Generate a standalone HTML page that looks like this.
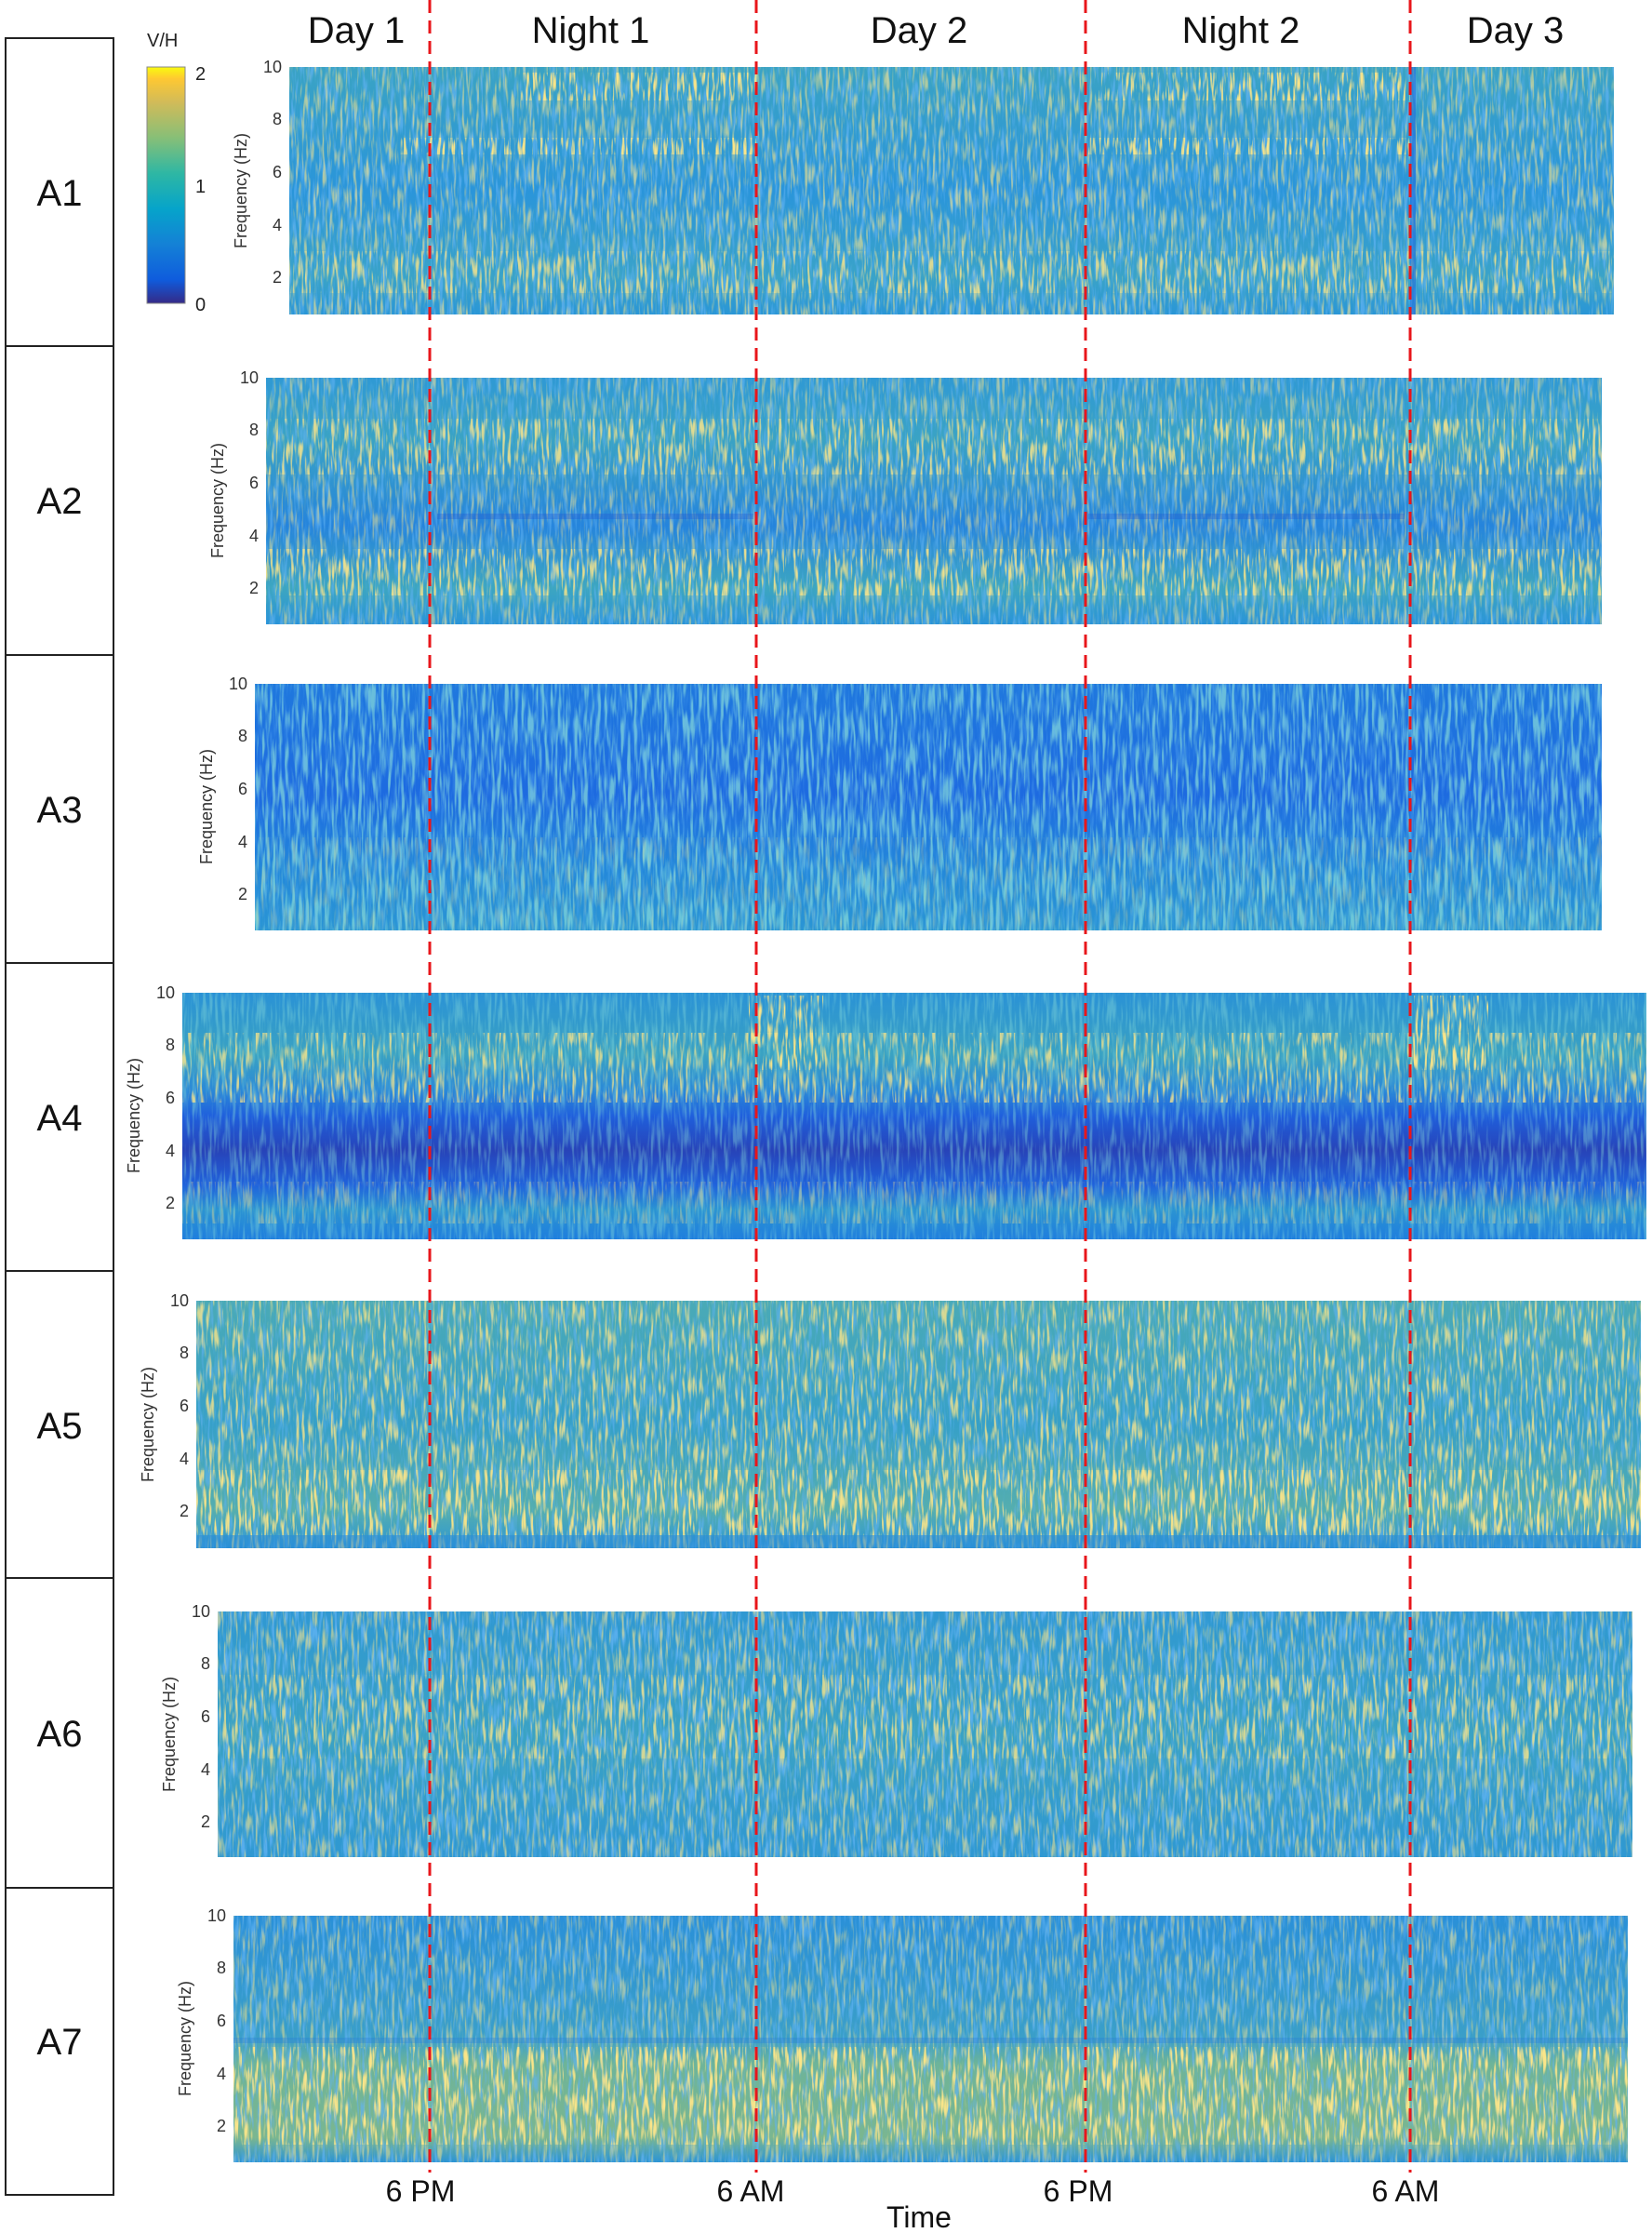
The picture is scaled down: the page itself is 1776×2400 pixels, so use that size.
<!DOCTYPE html>
<html><head><meta charset="utf-8"><style>
html,body{margin:0;padding:0;background:#fff;}
svg{display:block;font-family:"Liberation Sans",sans-serif;}
</style></head><body>
<svg width="1776" height="2400" viewBox="0 0 1776 2400" xmlns="http://www.w3.org/2000/svg">
<defs>
<linearGradient id="cb" x1="0" y1="1" x2="0" y2="0">
<stop offset="0" stop-color="#352a87"/><stop offset="0.1" stop-color="#0f5cdd"/><stop offset="0.25" stop-color="#1481d6"/><stop offset="0.4" stop-color="#06a4ca"/><stop offset="0.55" stop-color="#2eb7a4"/><stop offset="0.7" stop-color="#87bf77"/><stop offset="0.85" stop-color="#d1bb59"/><stop offset="0.95" stop-color="#fec832"/><stop offset="1" stop-color="#f9fb0e"/>
</linearGradient>
<filter id="ny" x="0" y="0" width="1" height="1"><feTurbulence type="fractalNoise" baseFrequency="0.32 0.04" numOctaves="2" seed="3"/><feColorMatrix type="matrix" values="0 0 0 0 0.96  0 0 0 0 0.78  0 0 0 0 0.25  4 0 0 0 -2.0"/></filter>
<filter id="nb" x="0" y="0" width="1" height="1"><feTurbulence type="fractalNoise" baseFrequency="0.3 0.035" numOctaves="2" seed="11"/><feColorMatrix type="matrix" values="0 0 0 0 0.12  0 0 0 0 0.45  0 0 0 0 0.9  0 4 0 0 -1.9"/></filter>
<filter id="nt" x="0" y="0" width="1" height="1"><feTurbulence type="fractalNoise" baseFrequency="0.28 0.03" numOctaves="2" seed="21"/><feColorMatrix type="matrix" values="0 0 0 0 0.25  0 0 0 0 0.72  0 0 0 0 0.7  0 0 4 0 -1.8"/></filter>

<linearGradient id="g1" x1="0" y1="0" x2="0" y2="1"><stop offset="0" stop-color="#3aa3c4"/><stop offset="0.5" stop-color="#2a95da"/><stop offset="0.85" stop-color="#3aa3c8"/><stop offset="1" stop-color="#2a96d6"/></linearGradient>
<linearGradient id="g2" x1="0" y1="0" x2="0" y2="1"><stop offset="0" stop-color="#2f99d4"/><stop offset="0.25" stop-color="#3aa3c4"/><stop offset="0.6" stop-color="#2584dc"/><stop offset="0.85" stop-color="#3da6c0"/><stop offset="1" stop-color="#2a94d8"/></linearGradient>
<linearGradient id="g3" x1="0" y1="0" x2="0" y2="1"><stop offset="0" stop-color="#1f78de"/><stop offset="0.45" stop-color="#1d6ae0"/><stop offset="0.75" stop-color="#2388da"/><stop offset="1" stop-color="#2a95d4"/></linearGradient>
<linearGradient id="g4" x1="0" y1="0" x2="0" y2="1"><stop offset="0" stop-color="#2a92d6"/><stop offset="0.25" stop-color="#3aa2c2"/><stop offset="0.4" stop-color="#2a88d8"/><stop offset="0.5" stop-color="#1f5fdc"/><stop offset="0.64" stop-color="#2743b8"/><stop offset="0.78" stop-color="#1f62dc"/><stop offset="0.88" stop-color="#2b94d2"/><stop offset="1" stop-color="#1f7ede"/></linearGradient>
<linearGradient id="g5" x1="0" y1="0" x2="0" y2="1"><stop offset="0" stop-color="#4aaab6"/><stop offset="0.5" stop-color="#36a0c8"/><stop offset="0.85" stop-color="#55aeae"/><stop offset="1" stop-color="#2a96d6"/></linearGradient>
<linearGradient id="g6" x1="0" y1="0" x2="0" y2="1"><stop offset="0" stop-color="#2f98d2"/><stop offset="0.5" stop-color="#3aa2c4"/><stop offset="1" stop-color="#2f98d2"/></linearGradient>
<linearGradient id="g7" x1="0" y1="0" x2="0" y2="1"><stop offset="0" stop-color="#2a90d8"/><stop offset="0.5" stop-color="#3a9fc8"/><stop offset="0.6" stop-color="#6eb498"/><stop offset="0.9" stop-color="#7ab690"/><stop offset="1" stop-color="#2a94d6"/></linearGradient>
</defs>

<g fill="none" stroke="#222" stroke-width="2">
<rect x="6" y="41" width="116" height="2318"/>
<line x1="6" y1="372" x2="122" y2="372"/><line x1="6" y1="704" x2="122" y2="704"/><line x1="6" y1="1035" x2="122" y2="1035"/><line x1="6" y1="1366" x2="122" y2="1366"/><line x1="6" y1="1696" x2="122" y2="1696"/><line x1="6" y1="2029" x2="122" y2="2029"/>
</g>
<g font-size="40" text-anchor="middle" fill="#111">
<text x="64" y="221">A1</text><text x="64" y="552">A2</text><text x="64" y="884">A3</text><text x="64" y="1215">A4</text><text x="64" y="1546">A5</text><text x="64" y="1877">A6</text><text x="64" y="2208">A7</text>
</g>

<rect x="158" y="72" width="41" height="254" fill="url(#cb)" stroke="#888" stroke-width="1"/>
<g font-size="20" fill="#222"><text x="158" y="50">V/H</text><text x="210" y="86">2</text><text x="210" y="207">1</text><text x="210" y="334">0</text></g>

<g font-size="40" text-anchor="middle" fill="#111">
<text x="383" y="46">Day 1</text><text x="635" y="46">Night 1</text><text x="988" y="46">Day 2</text><text x="1334" y="46">Night 2</text><text x="1629" y="46">Day 3</text>
</g>

<g>
<rect x="311" y="72" width="1424" height="266" fill="url(#g1)"/>
<rect x="311" y="72" width="1424" height="266" filter="url(#nb)" opacity="0.7"/>
<rect x="311" y="72" width="1424" height="266" filter="url(#ny)" opacity="0.6"/>
<rect x="560" y="78" width="253" height="30" filter="url(#ny)"/>
<rect x="1180" y="78" width="336" height="30" filter="url(#ny)"/>
<rect x="430" y="148" width="383" height="18" filter="url(#ny)"/>
<rect x="1170" y="148" width="346" height="18" filter="url(#ny)"/>
<rect x="311" y="270" width="1424" height="45" filter="url(#ny)" opacity="0.6"/>
<rect x="1516" y="72" width="6" height="266" fill="#1f6ede" opacity="0.6"/>
</g>
<g>
<rect x="286" y="406" width="1436" height="265" fill="url(#g2)"/>
<rect x="286" y="406" width="1436" height="265" filter="url(#nb)" opacity="0.6"/>
<rect x="286" y="406" width="1436" height="265" filter="url(#ny)" opacity="0.5"/>
<rect x="286" y="450" width="1436" height="60" filter="url(#ny)" opacity="0.7"/>
<rect x="286" y="590" width="1436" height="50" filter="url(#ny)" opacity="0.8"/>
<rect x="470" y="552" width="340" height="6" fill="#2358d2" opacity="0.35"/>
<rect x="1170" y="552" width="340" height="6" fill="#2358d2" opacity="0.35"/>
</g>
<g>
<rect x="274" y="735" width="1448" height="265" fill="url(#g3)"/>
<rect x="274" y="735" width="1448" height="265" filter="url(#nt)" opacity="0.7"/>
<rect x="274" y="900" width="1448" height="100" filter="url(#ny)" opacity="0.25"/>
<rect x="274" y="735" width="1448" height="265" filter="url(#nb)" opacity="0.3"/>
</g>
<g>
<rect x="196" y="1067" width="1574" height="265" fill="url(#g4)"/>
<rect x="196" y="1067" width="1574" height="265" filter="url(#nt)" opacity="0.4"/>
<rect x="196" y="1110" width="1574" height="75" filter="url(#ny)" opacity="0.8"/>
<rect x="196" y="1270" width="1574" height="45" filter="url(#ny)" opacity="0.4"/>
<rect x="805" y="1070" width="80" height="80" filter="url(#ny)"/>
<rect x="1520" y="1070" width="80" height="80" filter="url(#ny)"/>
</g>
<g>
<rect x="211" y="1398" width="1553" height="266" fill="url(#g5)"/>
<rect x="211" y="1398" width="1553" height="266" filter="url(#nb)" opacity="0.6"/>
<rect x="211" y="1398" width="1553" height="266" filter="url(#ny)" opacity="0.8"/>
<rect x="211" y="1580" width="1553" height="70" filter="url(#ny)" opacity="0.8"/>
<rect x="211" y="1650" width="1553" height="14" fill="#2a8ad8" opacity="0.5"/>
</g>
<g>
<rect x="234" y="1732" width="1521" height="264" fill="url(#g6)"/>
<rect x="234" y="1732" width="1521" height="264" filter="url(#nb)" opacity="0.8"/>
<rect x="234" y="1732" width="1521" height="264" filter="url(#ny)" opacity="0.6"/>
<rect x="234" y="1800" width="1521" height="90" filter="url(#ny)" opacity="0.5"/>
</g>
<g>
<rect x="251" y="2059" width="1499" height="265" fill="url(#g7)"/>
<rect x="251" y="2059" width="1499" height="265" filter="url(#nb)" opacity="0.7"/>
<rect x="251" y="2059" width="1499" height="265" filter="url(#ny)" opacity="0.5"/>
<rect x="251" y="2200" width="1499" height="105" filter="url(#ny)"/>
<rect x="251" y="2190" width="1499" height="6" fill="#2a7fd8" opacity="0.35"/>
</g>

<g font-size="18" fill="#333" text-anchor="end">
<text x="303" y="78">10</text><text x="303" y="134">8</text><text x="303" y="191">6</text><text x="303" y="248">4</text><text x="303" y="304">2</text>
<text x="278" y="412">10</text><text x="278" y="468">8</text><text x="278" y="525">6</text><text x="278" y="582">4</text><text x="278" y="638">2</text>
<text x="266" y="741">10</text><text x="266" y="797">8</text><text x="266" y="854">6</text><text x="266" y="911">4</text><text x="266" y="967">2</text>
<text x="188" y="1073">10</text><text x="188" y="1129">8</text><text x="188" y="1186">6</text><text x="188" y="1243">4</text><text x="188" y="1299">2</text>
<text x="203" y="1404">10</text><text x="203" y="1460">8</text><text x="203" y="1517">6</text><text x="203" y="1574">4</text><text x="203" y="1630">2</text>
<text x="226" y="1738">10</text><text x="226" y="1794">8</text><text x="226" y="1851">6</text><text x="226" y="1908">4</text><text x="226" y="1964">2</text>
<text x="243" y="2065">10</text><text x="243" y="2121">8</text><text x="243" y="2178">6</text><text x="243" y="2235">4</text><text x="243" y="2291">2</text>
</g>
<g font-size="18" fill="#333" text-anchor="middle">
<text transform="translate(265,205) rotate(-90)">Frequency (Hz)</text>
<text transform="translate(240,538) rotate(-90)">Frequency (Hz)</text>
<text transform="translate(228,867) rotate(-90)">Frequency (Hz)</text>
<text transform="translate(150,1199) rotate(-90)">Frequency (Hz)</text>
<text transform="translate(165,1531) rotate(-90)">Frequency (Hz)</text>
<text transform="translate(188,1864) rotate(-90)">Frequency (Hz)</text>
<text transform="translate(205,2191) rotate(-90)">Frequency (Hz)</text>
</g>

<g stroke="#e8161b" stroke-width="3" stroke-dasharray="14 8">
<line x1="462" y1="0" x2="462" y2="2335"/><line x1="813" y1="0" x2="813" y2="2335"/><line x1="1167" y1="0" x2="1167" y2="2335"/><line x1="1516" y1="0" x2="1516" y2="2335"/>
</g>

<g font-size="32" text-anchor="middle" fill="#111">
<text x="452" y="2366">6 PM</text><text x="807" y="2366">6 AM</text><text x="1159" y="2366">6 PM</text><text x="1511" y="2366">6 AM</text>
<text x="988" y="2394">Time</text>
</g>
</svg>
</body></html>
